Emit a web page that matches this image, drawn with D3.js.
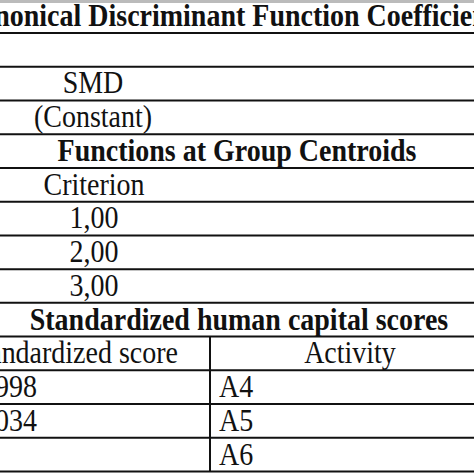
<!DOCTYPE html>
<html><head><meta charset="utf-8">
<script src="https://cdn.jsdelivr.net/npm/d3@7"></script>
<style>body{margin:0;background:#fff}</style>
</head><body>
<script>
const title = 'Canonical Discriminant Function Coefficients';
const coefLabels = ['', 'SMD', '(Constant)'];
const centroidTitle = 'Functions at Group Centroids';
const criterionLabels = ['Criterion', '1,00', '2,00', '3,00'];
const scoresTitle = 'Standardized human capital scores';
const scoreHeaders = ['Standardized score', 'Activity'];
const scoreValues = ['0,998', '1,034', ''];
const activities = ['A4', 'A5', 'A6'];

const width = 474, height = 474;
const svg = d3.select('body').append('svg').attr('width', width).attr('height', height)
    .style('font-family', '"Liberation Serif", "Times New Roman", serif');

const y = d3.scaleLinear().domain([0, 14]).range([-0.7, 471.5]);

// light border at the very top
svg.append('rect').attr('x', 0).attr('y', 0).attr('width', width).attr('height', 3).attr('fill', '#bbb');

// horizontal rules
svg.append('g').selectAll('line').data(d3.range(1, 15)).join('line')
    .attr('x1', 0).attr('x2', width)
    .attr('y1', d => y(d)).attr('y2', d => y(d))
    .attr('stroke', '#111').attr('stroke-width', 2);
// column split in the scores block
svg.append('line').attr('x1', 210).attr('x2', 210).attr('y1', y(10)).attr('y2', y(14))
    .attr('stroke', '#111').attr('stroke-width', 2);

function label(row, x, text, anchor, bold) {
    svg.append('text')
        .attr('transform', `translate(${x},${y(row + 1) - 7}) scale(1,1.15)`)
        .attr('text-anchor', anchor)
        .attr('font-size', 28)
        .attr('font-weight', bold ? 'bold' : 'normal')
        .attr('fill', '#111')
        .text(text);
}

label(0, -40, title, 'start', true);
coefLabels.forEach((t, i) => label(1 + i, 93, t, 'middle'));
label(4, 237, centroidTitle, 'middle', true);
criterionLabels.forEach((t, i) => label(5 + i, 94, t, 'middle'));
label(9, 239, scoresTitle, 'middle', true);
label(10, 178, scoreHeaders[0], 'end');
label(10, 350, scoreHeaders[1], 'middle');
scoreValues.forEach((t, i) => label(11 + i, 37, t, 'end'));
activities.forEach((t, i) => label(11 + i, 219, t, 'start'));
</script>
</body></html>
